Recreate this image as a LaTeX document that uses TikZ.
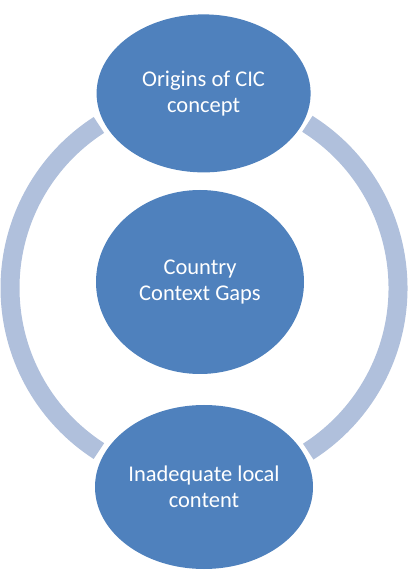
\documentclass[tikz,border=0pt]{standalone}
\usepackage{fontspec}
\setmainfont{Carlito}
\usetikzlibrary{shapes.geometric}
\definecolor{blobblue}{RGB}{79,129,189}
\definecolor{ringblue}{RGB}{176,192,220}
\begin{document}
\begin{tikzpicture}[
  blob/.style={ellipse,fill=blobblue,text=white,align=center,inner sep=0pt,
    font=\fontsize{16}{18.5}\selectfont},
  ring/.style={draw=ringblue,line width=0.475cm}]
\useasboundingbox (0,0) rectangle (10.2,14.375);
\coordinate (hub) at (5.1,7.175);
\draw[ring] ([shift={(57.8:4.85)}]hub) arc (57.8:-57.5:4.85);
\draw[ring] ([shift={(122.8:4.85)}]hub) arc (122.8:237.2:4.85);
\node[blob,minimum width=5.35cm,minimum height=3.95cm] (origins) at (5.09,12.04) {Origins of CIC\\concept};
\node[blob,minimum width=5.2cm,minimum height=4.6cm] (gaps) at (5.0,7.325) {Country\\Context Gaps};
\node[blob,minimum width=5.45cm,minimum height=4.1cm] (local) at (5.1,2.2) {Inadequate local\\content};
\end{tikzpicture}
\end{document}
